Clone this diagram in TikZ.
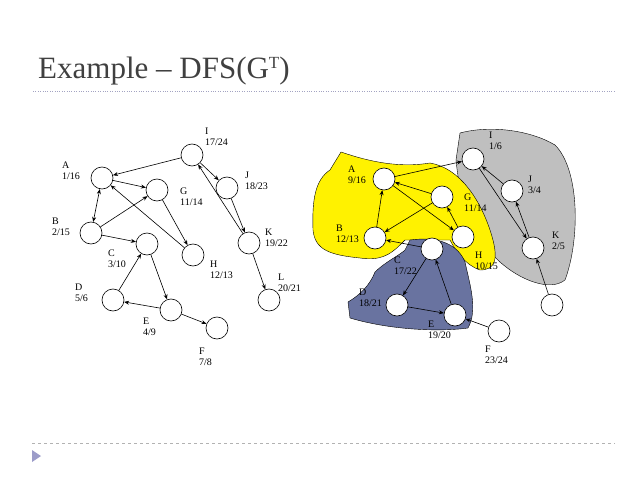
\documentclass[tikz,border=0pt]{standalone}
\usepackage{fontspec}
\setmainfont{Liberation Serif}
\usetikzlibrary{arrows.meta}
\begin{document}
\begin{tikzpicture}[x=1pt,y=-1pt,>={Stealth[length=5pt,width=4pt]},
  vtx/.style={circle,draw,semithick,fill=white,minimum size=22pt,inner sep=0pt},
  lbl/.style={anchor=north west,inner sep=0pt,font=\fontsize{10}{11}\selectfont,align=left},
  e/.style={->,semithick}]
\useasboundingbox (0,0) rectangle (638,479);
\definecolor{slate}{RGB}{105,115,160}
\node[anchor=base west,inner sep=0pt,text=black!75,font=\fontsize{31}{33}\selectfont] (title) at (38,78) {Example -- DFS(G\raisebox{0.7ex}{\fontsize{17}{18}\selectfont T})};
\draw[dotted,color=blue!20!gray!60] (33,91) -- (615,91);
\draw[dashed,color=gray!60] (32,443) -- (615,443);
\fill[blue!30!gray!60] (32,450) -- (41,456) -- (32,462) -- cycle;
% blobs
\draw[fill=gray!50] (460,133) .. controls (490,125) and (530,130) .. (555,145) .. controls (580,170) and (580,240) .. (565,280) .. controls (550,292) and (520,280) .. (500,262) .. controls (470,235) and (460,200) .. (456,160) -- cycle;
\draw[fill=yellow] (341,152) .. controls (370,162) and (400,168) .. (430,163) .. controls (460,168) and (480,200) .. (490,230) .. controls (500,260) and (495,270) .. (480,270) .. controls (465,265) and (455,250) .. (450,240) -- (405,240) .. controls (395,250) and (385,262) .. (360,258) .. controls (330,255) and (315,250) .. (313,230) .. controls (312,200) and (315,180) .. (330,170) -- cycle;
\draw[fill=slate] (410,240) .. controls (440,236) and (458,245) .. (465,262) .. controls (470,285) and (478,310) .. (468,328) .. controls (440,332) and (390,330) .. (350,318) -- (348,302) .. controls (360,295) and (370,285) .. (375,272) .. controls (385,262) and (400,255) .. (405,250) -- cycle;
% left graph
\node[vtx] (lI) at (192,155) {}; \node[vtx] (lA) at (102,178) {};
\node[vtx] (lG) at (157,190) {}; \node[vtx] (lB) at (91,233) {};
\node[vtx] (lC) at (147,244) {}; \node[vtx] (lH) at (193,255) {};
\node[vtx] (lJ) at (227,188) {}; \node[vtx] (lK) at (249,243) {};
\node[vtx] (lL) at (269,300) {}; \node[vtx] (lD) at (113,300) {};
\node[vtx] (lE) at (171,310) {}; \node[vtx] (lF) at (217,328) {};
\draw[e] (lI) -- (lA); \draw[e] (lA) -- (lG); \draw[<->,semithick] (lA) -- (lB);
\draw[e] (lB) -- (lG); \draw[e] (lB) -- (lC); \draw[e] (lG) -- (lH);
\draw[e] (lH) -- (lA); \draw[e] (lC) -- (lE); \draw[e] (lE) -- (lD);
\draw[e] (lD) -- (lC); \draw[e] (lE) -- (lF); \draw[e] (lI) -- (lJ);
\draw[e] (lJ) -- (lK); \draw[e] (lK) -- (lI); \draw[e] (lK) -- (lL);
\node[lbl] (tI) at (205,128) {I\\17/24}; \node[lbl] (tA) at (62,162) {A\\1/16};
\node[lbl] (tG) at (180,188) {G\\11/14}; \node[lbl] (tB) at (52,218) {B\\2/15};
\node[lbl] (tC) at (108,250) {C\\3/10}; \node[lbl] (tD) at (75,284) {D\\5/6};
\node[lbl] (tE) at (143,318) {E\\4/9}; \node[lbl] (tF) at (199,348) {F\\7/8};
\node[lbl] (tH) at (210,261) {H\\12/13}; \node[lbl] (tJ) at (245,172) {J\\18/23};
\node[lbl] (tK) at (265,229) {K\\19/22}; \node[lbl] (tL) at (278,274) {L\\20/21};
% right graph
\node[vtx] (rI) at (473,159) {}; \node[vtx] (rA) at (384,179) {};
\node[vtx] (rG) at (442,197) {}; \node[vtx] (rJ) at (512,191) {};
\node[vtx] (rB) at (375,238) {}; \node[vtx] (rH) at (463,237) {};
\node[vtx] (rC) at (432,249) {}; \node[vtx] (rK) at (533,248) {};
\node[vtx] (rD) at (397,305) {}; \node[vtx] (rE) at (455,315) {};
\node[vtx] (rF) at (499,331) {}; \node[vtx] (rX) at (552,305) {};
\draw[e] (rA) -- (rI); \draw[e] (rG) -- (rA); \draw[e] (rG) -- (rB);
\draw[e] (rA) -- (rH); \draw[e] (rH) -- (rG); \draw[e] (rB) -- (rA);
\draw[e] (rC) -- (rB); \draw[e] (rC) -- (rD); \draw[e] (rD) -- (rE);
\draw[e] (rE) -- (rC); \draw[e] (rF) -- (rE); \draw[e] (rI) -- (rK);
\draw[e] (rJ) -- (rI); \draw[e] (rK) -- (rJ); \draw[e] (rX) -- (rK);
\node[lbl] (sI) at (489,132) {I\\1/6}; \node[lbl] (sA) at (348,166) {A\\9/16};
\node[lbl] (sG) at (464,194) {G\\11/14}; \node[lbl] (sJ) at (528,176) {J\\3/4};
\node[lbl] (sB) at (336,225) {B\\12/13}; \node[lbl] (sH) at (475,252) {H\\10/15};
\node[lbl] (sK) at (552,232) {K\\2/5}; \node[lbl] (sC) at (394,257) {C\\17/22};
\node[lbl] (sD) at (359,289) {D\\18/21}; \node[lbl] (sE) at (428,321) {E\\19/20};
\node[lbl] (sF) at (485,346) {F\\23/24};
\end{tikzpicture}
\end{document}
